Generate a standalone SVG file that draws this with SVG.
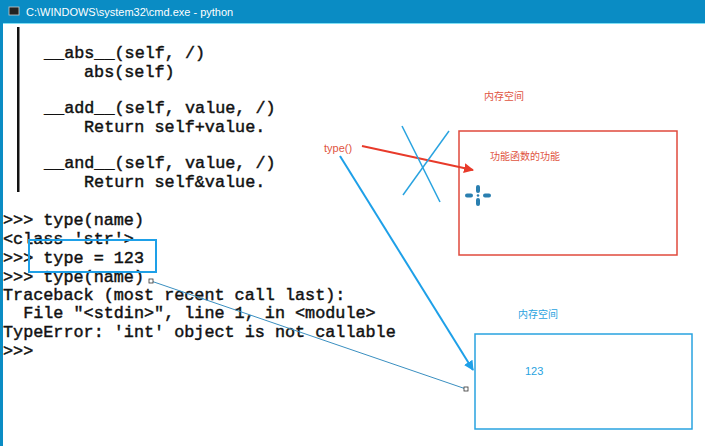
<svg xmlns="http://www.w3.org/2000/svg" width="705" height="446" viewBox="0 0 705 446">
<defs>
<style>
.t{font-family:"Liberation Mono",monospace;font-size:16.8px;fill:#111;stroke:#111;stroke-width:0.45;white-space:pre}
.cn{font-family:"Noto Sans CJK SC",sans-serif;font-size:10px}
</style>
<marker id="ar" viewBox="0 0 10 10" refX="9" refY="5" markerWidth="5" markerHeight="5" orient="auto"><path d="M0,0L10,5L0,10z" fill="context-stroke"/></marker>
</defs>
<rect width="705" height="446" fill="#fff"/>
<g id="window">
<rect width="705" height="23" fill="#0a8cc4"/>
<rect y="23" width="705" height="1" fill="#7fe0f5"/>
<rect x="0" y="23" width="3" height="423" fill="#0a8cc4"/>
<rect x="9" y="7" width="10" height="8" fill="#222" stroke="#ccc" stroke-width="0.8"/>
<text x="26" y="16" font-family="Liberation Sans,sans-serif" font-size="11" fill="#fff">C:\WINDOWS\system32\cmd.exe - python</text>
<rect x="17" y="27" width="2.5" height="165" fill="#111"/>
</g>
<g id="terminal">
<text class="t" x="44" y="58">__abs__(self, /)</text>
<text class="t" x="84" y="77">abs(self)</text>
<text class="t" x="44" y="113">__add__(self, value, /)</text>
<text class="t" x="84" y="132">Return self+value.</text>
<text class="t" x="44" y="168">__and__(self, value, /)</text>
<text class="t" x="84" y="187">Return self&amp;value.</text>
<text class="t" x="3" y="225">&gt;&gt;&gt; type(name)</text>
<text class="t" x="3" y="244">&lt;class 'str'&gt;</text>
<text class="t" x="3" y="263">&gt;&gt;&gt; type = 123</text>
<text class="t" x="3" y="282">&gt;&gt;&gt; type(name)</text>
<text class="t" x="3" y="300">Traceback (most recent call last):</text>
<text class="t" x="3" y="318">  File "&lt;stdin&gt;", line 1, in &lt;module&gt;</text>
<text class="t" x="3" y="337">TypeError: 'int' object is not callable</text>
<text class="t" x="3" y="356">&gt;&gt;&gt;</text>
</g>
<g id="mem1">
<rect x="459" y="131" width="218" height="124" fill="none" stroke="#e04a3c" stroke-width="1.5"/>
<text class="cn" x="484" y="100" fill="#e0553f">内存空间</text>
<text class="cn" x="490" y="160" fill="#e0553f">功能函数的功能</text>
</g>
<g id="mem2">
<rect x="475" y="334" width="217" height="95" fill="none" stroke="#29a3e0" stroke-width="1.5"/>
<text class="cn" x="518" y="318" fill="#29a3e0">内存空间</text>
<text x="525" y="375" font-family="Liberation Sans,sans-serif" font-size="11" fill="#29a3e0">123</text>
</g>
<g id="typelabel">
<text x="324" y="152" font-family="Liberation Sans,sans-serif" font-size="11" fill="#e0553f">type()</text>
</g>
<g id="connectors">
<line x1="362" y1="146" x2="473" y2="170" stroke="#e83a2a" stroke-width="2" marker-end="url(#ar)"/>
<line x1="402" y1="126" x2="440" y2="202" stroke="#29a3e0" stroke-width="1.5"/>
<line x1="449" y1="131" x2="403" y2="195" stroke="#29a3e0" stroke-width="1.5"/>
<line x1="340" y1="156" x2="473" y2="370" stroke="#1ea0e8" stroke-width="2" marker-end="url(#ar)"/>
<rect x="29" y="240" width="127" height="32" fill="none" stroke="#1ea0e8" stroke-width="2"/>
<line x1="151" y1="281" x2="466" y2="389" stroke="#3a8fc0" stroke-width="1"/>
<rect x="149" y="279" width="4" height="4" fill="#fff" stroke="#333" stroke-width="0.8"/>
<rect x="464" y="387" width="4" height="4" fill="#fff" stroke="#333" stroke-width="0.8"/>
<g fill="#2a7fb0">
<rect x="476" y="185" width="4" height="8" rx="2"/>
<rect x="476" y="198" width="4" height="8" rx="2"/>
<rect x="465" y="193.5" width="8" height="4" rx="2"/>
<rect x="483" y="193.5" width="8" height="4" rx="2"/>
<circle cx="478" cy="195.5" r="1.3"/>
</g>
</g>
</svg>
